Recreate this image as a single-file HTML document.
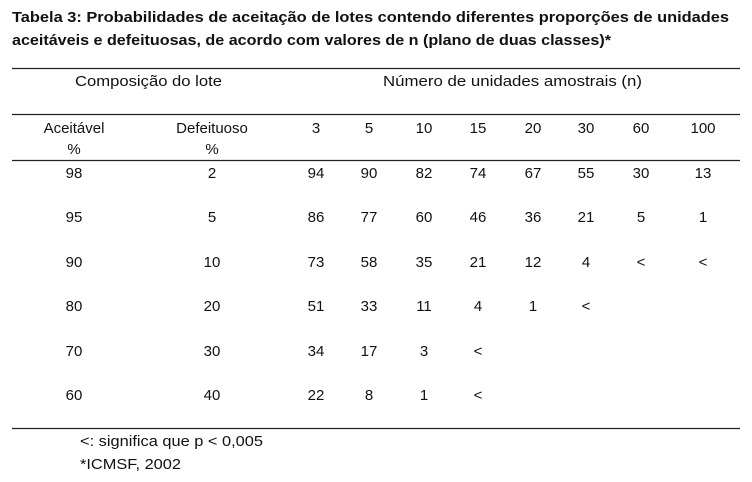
<!DOCTYPE html>
<html><head><meta charset="utf-8"><style>
html,body{margin:0;padding:0;background:#fff;}
svg{display:block;}
text{font-family:"Liberation Sans",sans-serif;font-size:15px;fill:#111;}
.b{font-weight:bold;font-size:15px;}
.c{text-anchor:middle;}
</style></head><body>
<svg width="752" height="482" viewBox="0 0 752 482">
<text class="b" x="12" y="22" textLength="717" lengthAdjust="spacingAndGlyphs">Tabela 3: Probabilidades de aceitação de lotes contendo diferentes proporções de unidades</text>
<text class="b" x="12" y="45" textLength="599" lengthAdjust="spacingAndGlyphs">aceitáveis e defeituosas, de acordo com valores de n (plano de duas classes)*</text>
<g stroke="#222" stroke-width="1.2">
<line x1="12" y1="68.5" x2="740" y2="68.5"/>
<line x1="12" y1="114.5" x2="740" y2="114.5"/>
<line x1="12" y1="160.5" x2="740" y2="160.5"/>
<line x1="12" y1="428.5" x2="740" y2="428.5"/>
</g>
<text x="75" y="86" textLength="147" lengthAdjust="spacingAndGlyphs">Composição do lote</text>
<text x="383" y="86" textLength="259" lengthAdjust="spacingAndGlyphs">Número de unidades amostrais  (n)</text>
<g>
<text class="c" x="74" y="133">Aceitável</text><text class="c" x="74" y="154">%</text>
<text class="c" x="212" y="133">Defeituoso</text><text class="c" x="212" y="154">%</text>
<text class="c" x="316" y="133">3</text><text class="c" x="369" y="133">5</text><text class="c" x="424" y="133">10</text><text class="c" x="478" y="133">15</text><text class="c" x="533" y="133">20</text><text class="c" x="586" y="133">30</text><text class="c" x="641" y="133">60</text><text class="c" x="703" y="133">100</text>

<text class="c" x="74" y="178">98</text><text class="c" x="212" y="178">2</text><text class="c" x="316" y="178">94</text><text class="c" x="369" y="178">90</text><text class="c" x="424" y="178">82</text><text class="c" x="478" y="178">74</text><text class="c" x="533" y="178">67</text><text class="c" x="586" y="178">55</text><text class="c" x="641" y="178">30</text><text class="c" x="703" y="178">13</text>

<text class="c" x="74" y="222">95</text><text class="c" x="212" y="222">5</text><text class="c" x="316" y="222">86</text><text class="c" x="369" y="222">77</text><text class="c" x="424" y="222">60</text><text class="c" x="478" y="222">46</text><text class="c" x="533" y="222">36</text><text class="c" x="586" y="222">21</text><text class="c" x="641" y="222">5</text><text class="c" x="703" y="222">1</text>

<text class="c" x="74" y="267">90</text><text class="c" x="212" y="267">10</text><text class="c" x="316" y="267">73</text><text class="c" x="369" y="267">58</text><text class="c" x="424" y="267">35</text><text class="c" x="478" y="267">21</text><text class="c" x="533" y="267">12</text><text class="c" x="586" y="267">4</text><text class="c" x="641" y="267">&lt;</text><text class="c" x="703" y="267">&lt;</text>

<text class="c" x="74" y="311">80</text><text class="c" x="212" y="311">20</text><text class="c" x="316" y="311">51</text><text class="c" x="369" y="311">33</text><text class="c" x="424" y="311">11</text><text class="c" x="478" y="311">4</text><text class="c" x="533" y="311">1</text><text class="c" x="586" y="311">&lt;</text>

<text class="c" x="74" y="356">70</text><text class="c" x="212" y="356">30</text><text class="c" x="316" y="356">34</text><text class="c" x="369" y="356">17</text><text class="c" x="424" y="356">3</text><text class="c" x="478" y="356">&lt;</text>

<text class="c" x="74" y="400">60</text><text class="c" x="212" y="400">40</text><text class="c" x="316" y="400">22</text><text class="c" x="369" y="400">8</text><text class="c" x="424" y="400">1</text><text class="c" x="478" y="400">&lt;</text>
</g>
<text x="80" y="446" textLength="183" lengthAdjust="spacingAndGlyphs">&lt;: significa que  p &lt; 0,005</text>
<text x="80" y="469" textLength="101" lengthAdjust="spacingAndGlyphs">*ICMSF, 2002</text>
</svg>
</body></html>
